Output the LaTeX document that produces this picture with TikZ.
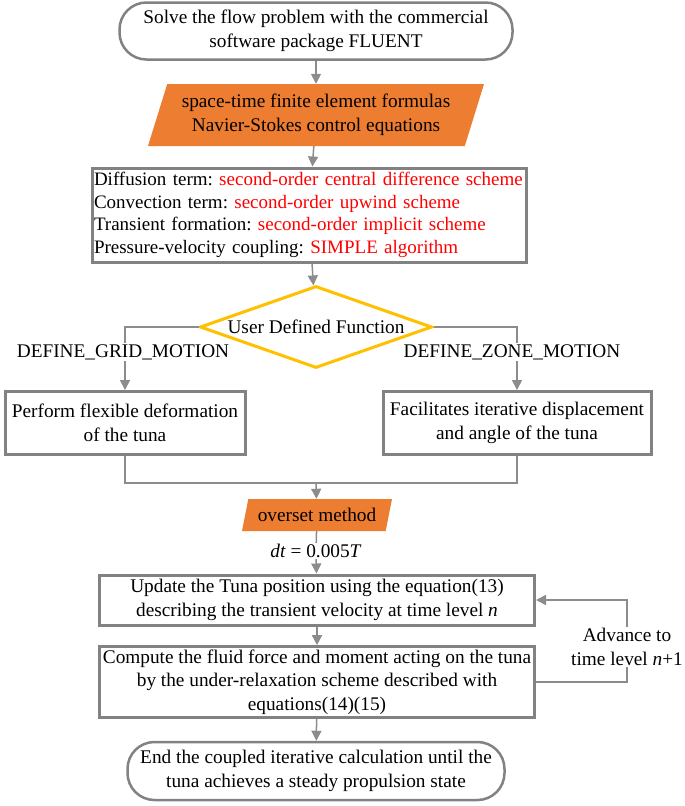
\documentclass[tikz,border=0pt]{standalone}
\usepackage{fontspec}
\setmainfont{Liberation Serif}
\usepackage{tikz}
\usetikzlibrary{arrows.meta,shapes.geometric,positioning}
\frenchspacing
\definecolor{linegray}{RGB}{140,140,140}
\definecolor{boxgray}{RGB}{130,130,130}
\definecolor{flowred}{RGB}{255,0,0}
\definecolor{ioorange}{RGB}{237,125,49}
\definecolor{udfgold}{RGB}{255,192,0}
\tikzstyle{startstop} = [rectangle, rounded corners=27pt, draw=boxgray, line width=2.5pt, fill=white, align=center, inner sep=2pt]
\tikzstyle{process}   = [rectangle, draw=boxgray, line width=3pt, fill=white, align=center, inner sep=3pt]
\tikzstyle{io}        = [trapezium, trapezium left angle=65, trapezium right angle=115, trapezium stretches body, draw=none, fill=ioorange, align=center, inner sep=0pt]
\tikzstyle{decision}  = [diamond, aspect=2.8, draw=udfgold, line width=3pt, fill=white, inner sep=0pt]
\tikzstyle{label}     = [fill=white, inner sep=1pt, align=center]
\tikzstyle{line}      = [line width=1.5pt, draw=linegray]
\tikzstyle{arrow}     = [line, -{Triangle[width=10pt,length=10pt]}]

\begin{document}
\begin{tikzpicture}[x=1pt,y=-1pt,font=\fontsize{19.3}{23.5}\selectfont]
		\useasboundingbox (0,0) rectangle (685,806);

		\node[startstop, minimum width=393pt, minimum height=57pt] (solve) at (316,31) {Solve the flow problem with the commercial\\software package FLUENT};
		\node[io, minimum width=336pt, minimum height=62pt] (formula) at (316,115) {space-time finite element formulas\\Navier-Stokes control equations};
		\node[process, align=left, text width=430pt, minimum height=94pt, inner sep=2pt, font=\fontsize{19}{22.5}\selectfont] (scheme) at (309,215) {Diffusion term: \textcolor{flowred}{second-order central difference scheme}\\
			Convection term: \textcolor{flowred}{second-order upwind scheme}\\
			Transient formation: \textcolor{flowred}{second-order implicit scheme}\\
			Pressure-velocity coupling: \textcolor{flowred}{SIMPLE algorithm}};
		\node[decision, minimum width=232pt, minimum height=82pt] (udf) at (316,327) {};
		\node at (udf.center) {User Defined Function};

		\node[process, minimum width=240pt, minimum height=63pt] (grid) at (125,423) {Perform flexible deformation\\of the tuna};
		\node[process, minimum width=268pt, minimum height=63pt] (zone) at (517,423) {Facilitates iterative displacement\\and angle of the tuna};
		\coordinate (merge) at (316,483);

		\node[io, minimum width=150pt, minimum height=32pt] (overset) at (317,515) {overset method};
		\node[inner sep=1pt] (dt) at (316,551) {\textit{dt} = 0.005\textit{T}};

		\node[process, minimum width=435pt, minimum height=50pt] (update) at (317,600) {Update the Tuna position using the equation(13)\\describing the transient velocity at time level \textit{n}};
		\node[process, minimum width=435pt, minimum height=69pt] (compute) at (317,682) {Compute the fluid force and moment acting on the tuna\\by the under-relaxation scheme described with\\equations(14)(15)};
		\node[startstop, minimum width=377pt, minimum height=58pt] (finish) at (316,771) {End the coupled iterative calculation until the\\tuna achieves a steady propulsion state};

		% main flow
		\draw[arrow] (solve) -- (formula);
		\draw[arrow] (formula) -- (scheme);
		\draw[arrow] (scheme) -- (udf);
		\draw[arrow] (udf.west) -| (grid.north);
		\draw[arrow] (udf.east) -| (zone.north);
		\draw[line] (grid.south) |- (merge);
		\draw[line] (zone.south) |- (merge);
		\draw[arrow] (merge) -- (overset);
		\draw[line] (overset) -- (dt);
		\draw[arrow] (dt) -- (update);
		\draw[arrow] (update) -- (compute);
		\draw[arrow] (compute) -- (finish);

		% feedback loop
		\node[label] (advance) at (627,647) {Advance to\\time level \textit{n}+1};
		\draw[line] (compute.east) -| (advance.south);
		\draw[arrow] (advance.north) |- (update.east);

		% branch labels
		\node[label] (gridlabel) at (123,352) {DEFINE\_GRID\_MOTION};
		\node[label] (zonelabel) at (512,352) {DEFINE\_ZONE\_MOTION};
	\end{tikzpicture}
\end{document}
